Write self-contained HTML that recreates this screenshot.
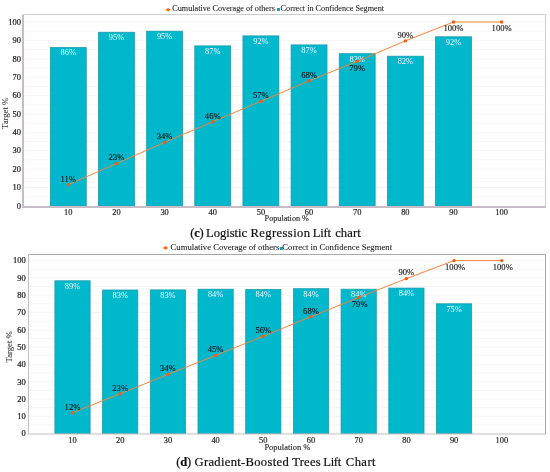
<!DOCTYPE html>
<html><head><meta charset="utf-8"><style>
html,body{margin:0;padding:0;background:#fff;width:550px;height:472px;overflow:hidden}
svg{display:block}
text{font-family:"Liberation Serif",serif}
</style></head><body>
<svg width="550" height="472" viewBox="0 0 550 472">
<rect width="550" height="472" fill="#fff"/>
<line x1="23" x2="545.5" y1="196.71" y2="196.71" stroke="#f3f2f3" stroke-width="0.8"/>
<line x1="23" x2="545.5" y1="187.52" y2="187.52" stroke="#f3f2f3" stroke-width="0.8"/>
<line x1="23" x2="545.5" y1="178.33" y2="178.33" stroke="#f3f2f3" stroke-width="0.8"/>
<line x1="23" x2="545.5" y1="169.14" y2="169.14" stroke="#f3f2f3" stroke-width="0.8"/>
<line x1="23" x2="545.5" y1="159.95" y2="159.95" stroke="#f3f2f3" stroke-width="0.8"/>
<line x1="23" x2="545.5" y1="150.76" y2="150.76" stroke="#f3f2f3" stroke-width="0.8"/>
<line x1="23" x2="545.5" y1="141.57" y2="141.57" stroke="#f3f2f3" stroke-width="0.8"/>
<line x1="23" x2="545.5" y1="132.38" y2="132.38" stroke="#f3f2f3" stroke-width="0.8"/>
<line x1="23" x2="545.5" y1="123.19" y2="123.19" stroke="#f3f2f3" stroke-width="0.8"/>
<line x1="23" x2="545.5" y1="114.00" y2="114.00" stroke="#f3f2f3" stroke-width="0.8"/>
<line x1="23" x2="545.5" y1="104.81" y2="104.81" stroke="#f3f2f3" stroke-width="0.8"/>
<line x1="23" x2="545.5" y1="95.62" y2="95.62" stroke="#f3f2f3" stroke-width="0.8"/>
<line x1="23" x2="545.5" y1="86.43" y2="86.43" stroke="#f3f2f3" stroke-width="0.8"/>
<line x1="23" x2="545.5" y1="77.24" y2="77.24" stroke="#f3f2f3" stroke-width="0.8"/>
<line x1="23" x2="545.5" y1="68.05" y2="68.05" stroke="#f3f2f3" stroke-width="0.8"/>
<line x1="23" x2="545.5" y1="58.86" y2="58.86" stroke="#f3f2f3" stroke-width="0.8"/>
<line x1="23" x2="545.5" y1="49.67" y2="49.67" stroke="#f3f2f3" stroke-width="0.8"/>
<line x1="23" x2="545.5" y1="40.48" y2="40.48" stroke="#f3f2f3" stroke-width="0.8"/>
<line x1="23" x2="545.5" y1="31.29" y2="31.29" stroke="#f3f2f3" stroke-width="0.8"/>
<line x1="23" x2="545.5" y1="22.10" y2="22.10" stroke="#f3f2f3" stroke-width="0.8"/>
<line x1="23" x2="545.5" y1="14.5" y2="14.5" stroke="#d0cbd0" stroke-width="1"/>
<line x1="545.5" x2="545.5" y1="14.5" y2="207.0" stroke="#d0cbd0" stroke-width="1"/>
<rect x="50.35" y="47.60" width="35.90" height="158.30" fill="#00b8cc" stroke="#1c9aab" stroke-width="0.8"/>
<rect x="98.50" y="32.30" width="35.90" height="173.60" fill="#00b8cc" stroke="#1c9aab" stroke-width="0.8"/>
<rect x="146.65" y="31.20" width="35.90" height="174.70" fill="#00b8cc" stroke="#1c9aab" stroke-width="0.8"/>
<rect x="194.80" y="45.90" width="35.90" height="160.00" fill="#00b8cc" stroke="#1c9aab" stroke-width="0.8"/>
<rect x="242.95" y="35.90" width="35.90" height="170.00" fill="#00b8cc" stroke="#1c9aab" stroke-width="0.8"/>
<rect x="291.10" y="44.90" width="35.90" height="161.00" fill="#00b8cc" stroke="#1c9aab" stroke-width="0.8"/>
<rect x="339.25" y="53.70" width="35.90" height="152.20" fill="#00b8cc" stroke="#1c9aab" stroke-width="0.8"/>
<rect x="387.40" y="56.20" width="35.90" height="149.70" fill="#00b8cc" stroke="#1c9aab" stroke-width="0.8"/>
<rect x="435.55" y="36.80" width="35.90" height="169.10" fill="#00b8cc" stroke="#1c9aab" stroke-width="0.8"/>
<line x1="23" x2="23" y1="14.5" y2="207.0" stroke="#c8bdc6" stroke-width="2.1"/>
<line x1="22" x2="546.0" y1="207.0" y2="207.0" stroke="#c8bdc6" stroke-width="1.8"/>
<text x="68.30" y="55.40" font-size="8.4" text-anchor="middle" fill="#eefbfc" >86%</text>
<text x="116.45" y="40.10" font-size="8.4" text-anchor="middle" fill="#eefbfc" >95%</text>
<text x="164.60" y="39.00" font-size="8.4" text-anchor="middle" fill="#eefbfc" >95%</text>
<text x="212.75" y="53.70" font-size="8.4" text-anchor="middle" fill="#eefbfc" >87%</text>
<text x="260.90" y="43.70" font-size="8.4" text-anchor="middle" fill="#eefbfc" >92%</text>
<text x="309.05" y="52.70" font-size="8.4" text-anchor="middle" fill="#eefbfc" >87%</text>
<text x="357.20" y="61.50" font-size="8.4" text-anchor="middle" fill="#eefbfc" >83%</text>
<text x="405.35" y="64.00" font-size="8.4" text-anchor="middle" fill="#eefbfc" >82%</text>
<text x="453.50" y="44.60" font-size="8.4" text-anchor="middle" fill="#eefbfc" >92%</text>
<polyline fill="none" stroke="#f6833f" stroke-width="1.0" points="68.30,184.70 116.45,163.60 164.60,142.40 212.75,121.70 260.90,101.30 309.05,80.90 357.20,61.30 405.35,40.90 453.50,22.00 501.65,22.00"/>
<circle cx="68.30" cy="184.70" r="1.7" fill="#fa5a0a"/>
<circle cx="116.45" cy="163.60" r="1.7" fill="#fa5a0a"/>
<circle cx="164.60" cy="142.40" r="1.7" fill="#fa5a0a"/>
<circle cx="212.75" cy="121.70" r="1.7" fill="#fa5a0a"/>
<circle cx="260.90" cy="101.30" r="1.7" fill="#fa5a0a"/>
<circle cx="309.05" cy="80.90" r="1.7" fill="#fa5a0a"/>
<circle cx="357.20" cy="61.30" r="1.7" fill="#fa5a0a"/>
<circle cx="405.35" cy="40.90" r="1.7" fill="#fa5a0a"/>
<circle cx="453.50" cy="22.00" r="1.7" fill="#fa5a0a"/>
<circle cx="501.65" cy="22.00" r="1.7" fill="#fa5a0a"/>
<text x="68.30" y="181.50" font-size="8.6" text-anchor="middle" fill="#111" stroke="#111" stroke-width="0.12" >11%</text>
<text x="116.45" y="160.40" font-size="8.6" text-anchor="middle" fill="#111" stroke="#111" stroke-width="0.12" >23%</text>
<text x="164.60" y="139.20" font-size="8.6" text-anchor="middle" fill="#111" stroke="#111" stroke-width="0.12" >34%</text>
<text x="212.75" y="118.50" font-size="8.6" text-anchor="middle" fill="#111" stroke="#111" stroke-width="0.12" >46%</text>
<text x="260.90" y="98.10" font-size="8.6" text-anchor="middle" fill="#111" stroke="#111" stroke-width="0.12" >57%</text>
<text x="309.05" y="77.70" font-size="8.6" text-anchor="middle" fill="#111" stroke="#111" stroke-width="0.12" >68%</text>
<text x="357.20" y="70.60" font-size="8.6" text-anchor="middle" fill="#111" stroke="#111" stroke-width="0.12" >79%</text>
<text x="405.35" y="37.70" font-size="8.6" text-anchor="middle" fill="#111" stroke="#111" stroke-width="0.12" >90%</text>
<text x="453.50" y="31.30" font-size="8.6" text-anchor="middle" fill="#111" stroke="#111" stroke-width="0.12" >100%</text>
<text x="501.65" y="31.30" font-size="8.6" text-anchor="middle" fill="#111" stroke="#111" stroke-width="0.12" >100%</text>
<text x="21.00" y="208.60" font-size="8.5" text-anchor="end" fill="#222" stroke="#222" stroke-width="0.22" >0</text>
<text x="21.00" y="190.22" font-size="8.5" text-anchor="end" fill="#222" stroke="#222" stroke-width="0.22" >10</text>
<text x="21.00" y="171.84" font-size="8.5" text-anchor="end" fill="#222" stroke="#222" stroke-width="0.22" >20</text>
<text x="21.00" y="153.46" font-size="8.5" text-anchor="end" fill="#222" stroke="#222" stroke-width="0.22" >30</text>
<text x="21.00" y="135.08" font-size="8.5" text-anchor="end" fill="#222" stroke="#222" stroke-width="0.22" >40</text>
<text x="21.00" y="116.70" font-size="8.5" text-anchor="end" fill="#222" stroke="#222" stroke-width="0.22" >50</text>
<text x="21.00" y="98.32" font-size="8.5" text-anchor="end" fill="#222" stroke="#222" stroke-width="0.22" >60</text>
<text x="21.00" y="79.94" font-size="8.5" text-anchor="end" fill="#222" stroke="#222" stroke-width="0.22" >70</text>
<text x="21.00" y="61.56" font-size="8.5" text-anchor="end" fill="#222" stroke="#222" stroke-width="0.22" >80</text>
<text x="21.00" y="43.18" font-size="8.5" text-anchor="end" fill="#222" stroke="#222" stroke-width="0.22" >90</text>
<text x="21.00" y="24.80" font-size="8.5" text-anchor="end" fill="#222" stroke="#222" stroke-width="0.22" >100</text>
<text x="68.30" y="214.50" font-size="8.4" text-anchor="middle" fill="#222" stroke="#222" stroke-width="0.18" >10</text>
<text x="116.45" y="214.50" font-size="8.4" text-anchor="middle" fill="#222" stroke="#222" stroke-width="0.18" >20</text>
<text x="164.60" y="214.50" font-size="8.4" text-anchor="middle" fill="#222" stroke="#222" stroke-width="0.18" >30</text>
<text x="212.75" y="214.50" font-size="8.4" text-anchor="middle" fill="#222" stroke="#222" stroke-width="0.18" >40</text>
<text x="260.90" y="214.50" font-size="8.4" text-anchor="middle" fill="#222" stroke="#222" stroke-width="0.18" >50</text>
<text x="309.05" y="214.50" font-size="8.4" text-anchor="middle" fill="#222" stroke="#222" stroke-width="0.18" >60</text>
<text x="357.20" y="214.50" font-size="8.4" text-anchor="middle" fill="#222" stroke="#222" stroke-width="0.18" >70</text>
<text x="405.35" y="214.50" font-size="8.4" text-anchor="middle" fill="#222" stroke="#222" stroke-width="0.18" >80</text>
<text x="453.50" y="214.50" font-size="8.4" text-anchor="middle" fill="#222" stroke="#222" stroke-width="0.18" >90</text>
<text x="501.65" y="214.50" font-size="8.4" text-anchor="middle" fill="#222" stroke="#222" stroke-width="0.18" >100</text>
<text x="264.60" y="221.20" font-size="8.2" text-anchor="start" fill="#222" stroke="#222" stroke-width="0.12" >Population %</text>
<text x="0" y="0" font-size="8.6" text-anchor="middle" fill="#3a3a3a" stroke="#3a3a3a" stroke-width="0.1" transform="translate(8.3,113.4) rotate(-90)">Target %</text>
<polygon points="165.29999999999998,9.7 168.1,7.8999999999999995 170.9,9.7 168.1,11.5" fill="#ff6a10"/>
<text x="172.30" y="10.90" font-size="8.2" text-anchor="start" fill="#222" stroke="#222" stroke-width="0.08" >Cumulative Coverage of others</text>
<rect x="277" y="8" width="3" height="3" fill="#0aa8be"/>
<text x="280.60" y="10.90" font-size="8.2" text-anchor="start" fill="#222" stroke="#222" stroke-width="0.08" >Correct in Confidence Segment</text>
<text x="190.2" y="236.8" font-size="12.6" fill="#111" stroke="#111" stroke-width="0.2" textLength="13.58" lengthAdjust="spacing">(<tspan font-weight="bold">c</tspan>)</text>
<text x="206.1" y="236.8" font-size="12.6" fill="#111" stroke="#111" stroke-width="0.2" textLength="40.91" lengthAdjust="spacing">Logistic</text>
<text x="250.5" y="236.8" font-size="12.6" fill="#111" stroke="#111" stroke-width="0.2" textLength="59.56" lengthAdjust="spacing">Regression</text>
<text x="312.8" y="236.8" font-size="12.6" fill="#111" stroke="#111" stroke-width="0.2" textLength="18.29" lengthAdjust="spacing">Lift</text>
<text x="335.2" y="236.8" font-size="12.6" fill="#111" stroke="#111" stroke-width="0.2" textLength="25.47" lengthAdjust="spacing">chart</text>
<line x1="28.5" x2="545.5" y1="424.95" y2="424.95" stroke="#f3f3f3" stroke-width="0.8"/>
<line x1="28.5" x2="545.5" y1="416.30" y2="416.30" stroke="#f3f3f3" stroke-width="0.8"/>
<line x1="28.5" x2="545.5" y1="407.65" y2="407.65" stroke="#f3f3f3" stroke-width="0.8"/>
<line x1="28.5" x2="545.5" y1="399.00" y2="399.00" stroke="#f3f3f3" stroke-width="0.8"/>
<line x1="28.5" x2="545.5" y1="390.35" y2="390.35" stroke="#f3f3f3" stroke-width="0.8"/>
<line x1="28.5" x2="545.5" y1="381.70" y2="381.70" stroke="#f3f3f3" stroke-width="0.8"/>
<line x1="28.5" x2="545.5" y1="373.05" y2="373.05" stroke="#f3f3f3" stroke-width="0.8"/>
<line x1="28.5" x2="545.5" y1="364.40" y2="364.40" stroke="#f3f3f3" stroke-width="0.8"/>
<line x1="28.5" x2="545.5" y1="355.75" y2="355.75" stroke="#f3f3f3" stroke-width="0.8"/>
<line x1="28.5" x2="545.5" y1="347.10" y2="347.10" stroke="#f3f3f3" stroke-width="0.8"/>
<line x1="28.5" x2="545.5" y1="338.45" y2="338.45" stroke="#f3f3f3" stroke-width="0.8"/>
<line x1="28.5" x2="545.5" y1="329.80" y2="329.80" stroke="#f3f3f3" stroke-width="0.8"/>
<line x1="28.5" x2="545.5" y1="321.15" y2="321.15" stroke="#f3f3f3" stroke-width="0.8"/>
<line x1="28.5" x2="545.5" y1="312.50" y2="312.50" stroke="#f3f3f3" stroke-width="0.8"/>
<line x1="28.5" x2="545.5" y1="303.85" y2="303.85" stroke="#f3f3f3" stroke-width="0.8"/>
<line x1="28.5" x2="545.5" y1="295.20" y2="295.20" stroke="#f3f3f3" stroke-width="0.8"/>
<line x1="28.5" x2="545.5" y1="286.55" y2="286.55" stroke="#f3f3f3" stroke-width="0.8"/>
<line x1="28.5" x2="545.5" y1="277.90" y2="277.90" stroke="#f3f3f3" stroke-width="0.8"/>
<line x1="28.5" x2="545.5" y1="269.25" y2="269.25" stroke="#f3f3f3" stroke-width="0.8"/>
<line x1="28.5" x2="545.5" y1="260.60" y2="260.60" stroke="#f3f3f3" stroke-width="0.8"/>
<line x1="28.5" x2="545.5" y1="254.5" y2="254.5" stroke="#a8a8a8" stroke-width="1"/>
<line x1="545.5" x2="545.5" y1="254.5" y2="434" stroke="#a8a8a8" stroke-width="1"/>
<rect x="54.90" y="280.80" width="35.20" height="152.80" fill="#00b8cc" stroke="#1c9aab" stroke-width="0.8"/>
<rect x="102.60" y="290.00" width="35.20" height="143.60" fill="#00b8cc" stroke="#1c9aab" stroke-width="0.8"/>
<rect x="150.30" y="289.90" width="35.20" height="143.70" fill="#00b8cc" stroke="#1c9aab" stroke-width="0.8"/>
<rect x="198.00" y="289.20" width="35.20" height="144.40" fill="#00b8cc" stroke="#1c9aab" stroke-width="0.8"/>
<rect x="245.70" y="289.60" width="35.20" height="144.00" fill="#00b8cc" stroke="#1c9aab" stroke-width="0.8"/>
<rect x="293.40" y="288.70" width="35.20" height="144.90" fill="#00b8cc" stroke="#1c9aab" stroke-width="0.8"/>
<rect x="341.10" y="289.20" width="35.20" height="144.40" fill="#00b8cc" stroke="#1c9aab" stroke-width="0.8"/>
<rect x="388.80" y="288.10" width="35.20" height="145.50" fill="#00b8cc" stroke="#1c9aab" stroke-width="0.8"/>
<rect x="436.50" y="303.80" width="35.20" height="129.80" fill="#00b8cc" stroke="#1c9aab" stroke-width="0.8"/>
<line x1="28.5" x2="28.5" y1="254.5" y2="434" stroke="#c4bec2" stroke-width="1"/>
<line x1="27.5" x2="546.0" y1="434" y2="434" stroke="#c4bec2" stroke-width="1.2"/>
<text x="72.50" y="288.60" font-size="8.4" text-anchor="middle" fill="#eefbfc" >89%</text>
<text x="120.20" y="297.80" font-size="8.4" text-anchor="middle" fill="#eefbfc" >83%</text>
<text x="167.90" y="297.70" font-size="8.4" text-anchor="middle" fill="#eefbfc" >83%</text>
<text x="215.60" y="297.00" font-size="8.4" text-anchor="middle" fill="#eefbfc" >84%</text>
<text x="263.30" y="297.40" font-size="8.4" text-anchor="middle" fill="#eefbfc" >84%</text>
<text x="311.00" y="296.50" font-size="8.4" text-anchor="middle" fill="#eefbfc" >84%</text>
<text x="358.70" y="297.00" font-size="8.4" text-anchor="middle" fill="#eefbfc" >84%</text>
<text x="406.40" y="295.90" font-size="8.4" text-anchor="middle" fill="#eefbfc" >84%</text>
<text x="454.10" y="311.60" font-size="8.4" text-anchor="middle" fill="#eefbfc" >75%</text>
<polyline fill="none" stroke="#f6833f" stroke-width="1.0" points="72.50,412.70 120.20,393.80 167.90,374.40 215.60,355.50 263.30,336.20 311.00,316.70 358.70,297.50 406.40,278.60 454.10,260.60 501.80,260.60"/>
<circle cx="72.50" cy="412.70" r="1.7" fill="#fa5a0a"/>
<circle cx="120.20" cy="393.80" r="1.7" fill="#fa5a0a"/>
<circle cx="167.90" cy="374.40" r="1.7" fill="#fa5a0a"/>
<circle cx="215.60" cy="355.50" r="1.7" fill="#fa5a0a"/>
<circle cx="263.30" cy="336.20" r="1.7" fill="#fa5a0a"/>
<circle cx="311.00" cy="316.70" r="1.7" fill="#fa5a0a"/>
<circle cx="358.70" cy="297.50" r="1.7" fill="#fa5a0a"/>
<circle cx="406.40" cy="278.60" r="1.7" fill="#fa5a0a"/>
<circle cx="454.10" cy="260.60" r="1.7" fill="#fa5a0a"/>
<circle cx="501.80" cy="260.60" r="1.7" fill="#fa5a0a"/>
<text x="72.50" y="409.50" font-size="8.6" text-anchor="middle" fill="#111" stroke="#111" stroke-width="0.12" >12%</text>
<text x="120.20" y="390.60" font-size="8.6" text-anchor="middle" fill="#111" stroke="#111" stroke-width="0.12" >23%</text>
<text x="167.90" y="371.20" font-size="8.6" text-anchor="middle" fill="#111" stroke="#111" stroke-width="0.12" >34%</text>
<text x="215.60" y="352.30" font-size="8.6" text-anchor="middle" fill="#111" stroke="#111" stroke-width="0.12" >45%</text>
<text x="263.30" y="333.00" font-size="8.6" text-anchor="middle" fill="#111" stroke="#111" stroke-width="0.12" >56%</text>
<text x="311.00" y="313.50" font-size="8.6" text-anchor="middle" fill="#111" stroke="#111" stroke-width="0.12" >68%</text>
<text x="359.70" y="306.80" font-size="8.6" text-anchor="middle" fill="#111" stroke="#111" stroke-width="0.12" >79%</text>
<text x="406.40" y="275.40" font-size="8.6" text-anchor="middle" fill="#111" stroke="#111" stroke-width="0.12" >90%</text>
<text x="455.10" y="269.90" font-size="8.6" text-anchor="middle" fill="#111" stroke="#111" stroke-width="0.12" >100%</text>
<text x="502.80" y="269.90" font-size="8.6" text-anchor="middle" fill="#111" stroke="#111" stroke-width="0.12" >100%</text>
<text x="25.70" y="436.40" font-size="8.5" text-anchor="end" fill="#222" stroke="#222" stroke-width="0.22" >0</text>
<text x="25.70" y="419.10" font-size="8.5" text-anchor="end" fill="#222" stroke="#222" stroke-width="0.22" >10</text>
<text x="25.70" y="401.80" font-size="8.5" text-anchor="end" fill="#222" stroke="#222" stroke-width="0.22" >20</text>
<text x="25.70" y="384.50" font-size="8.5" text-anchor="end" fill="#222" stroke="#222" stroke-width="0.22" >30</text>
<text x="25.70" y="367.20" font-size="8.5" text-anchor="end" fill="#222" stroke="#222" stroke-width="0.22" >40</text>
<text x="25.70" y="349.90" font-size="8.5" text-anchor="end" fill="#222" stroke="#222" stroke-width="0.22" >50</text>
<text x="25.70" y="332.60" font-size="8.5" text-anchor="end" fill="#222" stroke="#222" stroke-width="0.22" >60</text>
<text x="25.70" y="315.30" font-size="8.5" text-anchor="end" fill="#222" stroke="#222" stroke-width="0.22" >70</text>
<text x="25.70" y="298.00" font-size="8.5" text-anchor="end" fill="#222" stroke="#222" stroke-width="0.22" >80</text>
<text x="25.70" y="280.70" font-size="8.5" text-anchor="end" fill="#222" stroke="#222" stroke-width="0.22" >90</text>
<text x="25.70" y="263.40" font-size="8.5" text-anchor="end" fill="#222" stroke="#222" stroke-width="0.22" >100</text>
<text x="72.50" y="442.50" font-size="8.4" text-anchor="middle" fill="#222" stroke="#222" stroke-width="0.18" >10</text>
<text x="120.20" y="442.50" font-size="8.4" text-anchor="middle" fill="#222" stroke="#222" stroke-width="0.18" >20</text>
<text x="167.90" y="442.50" font-size="8.4" text-anchor="middle" fill="#222" stroke="#222" stroke-width="0.18" >30</text>
<text x="215.60" y="442.50" font-size="8.4" text-anchor="middle" fill="#222" stroke="#222" stroke-width="0.18" >40</text>
<text x="263.30" y="442.50" font-size="8.4" text-anchor="middle" fill="#222" stroke="#222" stroke-width="0.18" >50</text>
<text x="311.00" y="442.50" font-size="8.4" text-anchor="middle" fill="#222" stroke="#222" stroke-width="0.18" >60</text>
<text x="358.70" y="442.50" font-size="8.4" text-anchor="middle" fill="#222" stroke="#222" stroke-width="0.18" >70</text>
<text x="406.40" y="442.50" font-size="8.4" text-anchor="middle" fill="#222" stroke="#222" stroke-width="0.18" >80</text>
<text x="454.10" y="442.50" font-size="8.4" text-anchor="middle" fill="#222" stroke="#222" stroke-width="0.18" >90</text>
<text x="501.80" y="442.50" font-size="8.4" text-anchor="middle" fill="#222" stroke="#222" stroke-width="0.18" >100</text>
<text x="264.40" y="449.90" font-size="8.5" text-anchor="start" fill="#222" stroke="#222" stroke-width="0.12" >Population %</text>
<text x="0" y="0" font-size="8.6" text-anchor="middle" fill="#3a3a3a" stroke="#3a3a3a" stroke-width="0.1" transform="translate(11.5,346.9) rotate(-90)">Target %</text>
<polygon points="162.7,247.9 165.5,246.1 168.3,247.9 165.5,249.70000000000002" fill="#ff6a10"/>
<text x="170.50" y="249.60" font-size="8.7" text-anchor="start" fill="#222" stroke="#222" stroke-width="0.08" >Cumulative Coverage of others</text>
<rect x="279.8" y="247" width="3" height="3" fill="#0aa8be"/>
<text x="282.30" y="249.60" font-size="8.7" text-anchor="start" fill="#222" stroke="#222" stroke-width="0.08" >Correct in Confidence Segment</text>
<text x="176.2" y="465.6" font-size="12.6" fill="#111" stroke="#111" stroke-width="0.2" textLength="14.99" lengthAdjust="spacing">(<tspan font-weight="bold">d</tspan>)</text>
<text x="194.5" y="465.6" font-size="12.6" fill="#111" stroke="#111" stroke-width="0.2" textLength="94.19" lengthAdjust="spacing">Gradient-Boosted</text>
<text x="292.3" y="465.6" font-size="12.6" fill="#111" stroke="#111" stroke-width="0.2" textLength="28.29" lengthAdjust="spacing">Trees</text>
<text x="323.2" y="465.6" font-size="12.6" fill="#111" stroke="#111" stroke-width="0.2" textLength="18.09" lengthAdjust="spacing">Lift</text>
<text x="345.8" y="465.6" font-size="12.6" fill="#111" stroke="#111" stroke-width="0.2" textLength="29.73" lengthAdjust="spacing">Chart</text>
</svg>
</body></html>
